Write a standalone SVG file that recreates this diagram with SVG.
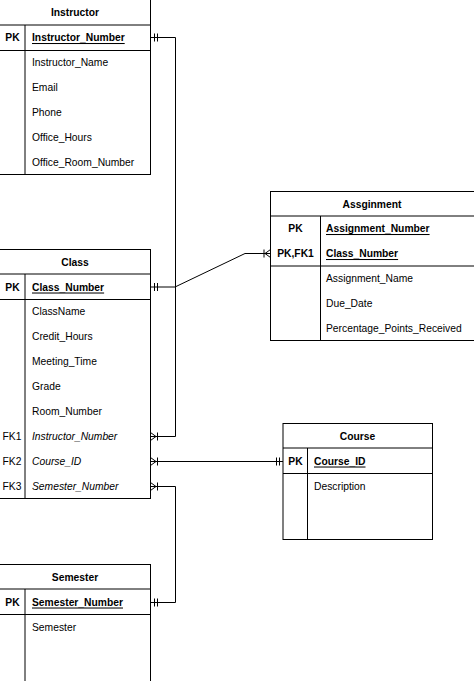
<svg xmlns="http://www.w3.org/2000/svg" width="474" height="681" viewBox="0 0 474 681">
<style>
  .box { fill: #ffffff; stroke: #000000; stroke-width: 1; }
  .ln { fill: none; stroke: #000000; stroke-width: 1; }
  text { font-family: "Liberation Sans", Arial, Helvetica, sans-serif; font-size: 10.3px; fill: #000000; dominant-baseline: central; }
  .title { font-weight: bold; text-anchor: middle; }
  .key { font-weight: bold; text-anchor: middle; }
  .pk { font-weight: bold; text-decoration: underline; }
  .fk { font-style: italic; }
  .fkl { text-anchor: middle; }
</style>
<rect width="474" height="681" fill="#ffffff"/>

<g id="instructor">
  <rect class="box" x="-10" y="-1" width="160.5" height="175.5"/>
  <line class="ln" x1="-10" y1="25" x2="150.5" y2="25"/>
  <line class="ln" x1="-10" y1="50.5" x2="150.5" y2="50.5"/>
  <line class="ln" x1="25" y1="25" x2="25" y2="174.5"/>
  <text class="title" x="75" y="12.5">Instructor</text>
  <text class="key" x="12.5" y="37.5">PK</text>
  <text class="pk" x="32" y="37.5">Instructor_Number</text>
  <text x="32" y="62.5">Instructor_Name</text>
  <text x="32" y="87.5">Email</text>
  <text x="32" y="112.5">Phone</text>
  <text x="32" y="137.5">Office_Hours</text>
  <text x="32" y="162.5">Office_Room_Number</text>
</g>

<g id="class">
  <rect class="box" x="-10" y="249.5" width="160.5" height="249"/>
  <line class="ln" x1="-10" y1="274" x2="150.5" y2="274"/>
  <line class="ln" x1="-10" y1="299.5" x2="150.5" y2="299.5"/>
  <line class="ln" x1="25" y1="274" x2="25" y2="498.5"/>
  <text class="title" x="75" y="262">Class</text>
  <text class="key" x="12.5" y="287">PK</text>
  <text class="pk" x="32" y="287">Class_Number</text>
  <text x="32" y="311.5">ClassName</text>
  <text x="32" y="336.5">Credit_Hours</text>
  <text x="32" y="361.5">Meeting_Time</text>
  <text x="32" y="386.5">Grade</text>
  <text x="32" y="411.5">Room_Number</text>
  <text class="fkl" x="12" y="436.5">FK1</text>
  <text class="fk" x="32" y="436.5">Instructor_Number</text>
  <text class="fkl" x="12" y="461.5">FK2</text>
  <text class="fk" x="32" y="461.5">Course_ID</text>
  <text class="fkl" x="12" y="486.5">FK3</text>
  <text class="fk" x="32" y="486.5">Semester_Number</text>
</g>

<g id="semester">
  <rect class="box" x="-10" y="564.5" width="160.5" height="130"/>
  <line class="ln" x1="-10" y1="589" x2="150.5" y2="589"/>
  <line class="ln" x1="-10" y1="614.5" x2="150.5" y2="614.5"/>
  <line class="ln" x1="25" y1="589" x2="25" y2="690"/>
  <text class="title" x="75" y="577">Semester</text>
  <text class="key" x="12.5" y="602">PK</text>
  <text class="pk" x="32" y="602">Semester_Number</text>
  <text x="32" y="627">Semester</text>
</g>

<g id="assignment">
  <rect class="box" x="270.5" y="191.5" width="210" height="149"/>
  <line class="ln" x1="270.5" y1="216" x2="480" y2="216"/>
  <line class="ln" x1="270.5" y1="266" x2="480" y2="266"/>
  <line class="ln" x1="320.5" y1="216" x2="320.5" y2="340.5"/>
  <text class="title" x="372" y="204">Assginment</text>
  <text class="key" x="295.5" y="228.5">PK</text>
  <text class="pk" x="326" y="228.5">Assignment_Number</text>
  <text class="key" x="295.5" y="253.5">PK,FK1</text>
  <text class="pk" x="326" y="253.5">Class_Number</text>
  <text x="326" y="278.5">Assignment_Name</text>
  <text x="326" y="303.5">Due_Date</text>
  <text x="326" y="328.5">Percentage_Points_Received</text>
</g>

<g id="course">
  <rect class="box" x="283" y="423.5" width="149.5" height="116"/>
  <line class="ln" x1="283" y1="448" x2="432.5" y2="448"/>
  <line class="ln" x1="283" y1="473.5" x2="432.5" y2="473.5"/>
  <line class="ln" x1="307.5" y1="448" x2="307.5" y2="539.5"/>
  <text class="title" x="357.5" y="436">Course</text>
  <text class="key" x="295.5" y="461">PK</text>
  <text class="pk" x="314" y="461">Course_ID</text>
  <text x="314" y="486">Description</text>
</g>

<g id="connectors">
  <!-- Instructor -> Class FK1 -->
  <path class="ln" d="M150.5 37.5 H175.5 V436.5 H150.5"/>
  <path class="ln" d="M154.5 33.5 V41.5 M157.5 33.5 V41.5"/>
  <path class="ln" d="M150.5 432.5 L156 436.5 L150.5 440.5 M157.5 432.5 V440.5"/>
  <!-- Class -> Assignment -->
  <path class="ln" d="M150.5 287 H175 L245 253.5 H270.5"/>
  <path class="ln" d="M154.5 283 V291 M157.5 283 V291"/>
  <path class="ln" d="M270.5 249.5 L265 253.5 L270.5 257.5 M264 249.5 V257.5"/>
  <!-- Class FK2 -> Course -->
  <path class="ln" d="M150.5 461.5 H283"/>
  <path class="ln" d="M150.5 457.5 L156 461.5 L150.5 465.5 M157.5 457.5 V465.5"/>
  <path class="ln" d="M276.5 457.5 V465.5 M279.5 457.5 V465.5"/>
  <!-- Class FK3 -> Semester -->
  <path class="ln" d="M150.5 486.5 H175.5 V602.5 H150.5"/>
  <path class="ln" d="M150.5 482.5 L156 486.5 L150.5 490.5 M157.5 482.5 V490.5"/>
  <path class="ln" d="M154.5 598.5 V606.5 M157.5 598.5 V606.5"/>
</g>
</svg>
